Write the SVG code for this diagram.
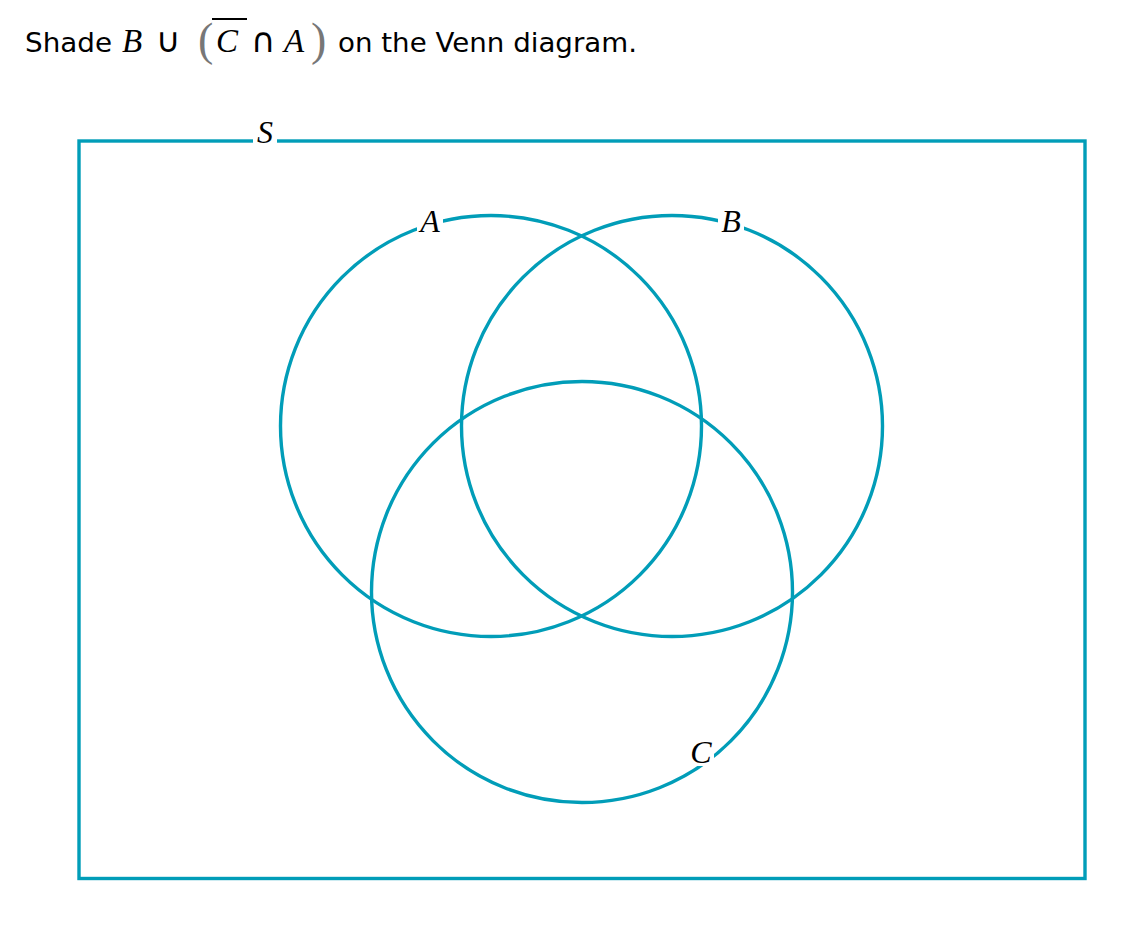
<svg xmlns="http://www.w3.org/2000/svg" width="1128" height="938" viewBox="0 0 1128 938">
<style>
.ln{fill:none;stroke:#019db8;stroke-width:3.4}
.lbl{font-family:"Liberation Serif",serif;font-style:italic;font-size:32px;fill:#000;text-anchor:middle}
.bg{fill:#fff}
.t{font-family:"DejaVu Sans",Verdana,sans-serif;font-size:27px;fill:#000}
.m{font-family:"Liberation Serif",serif;font-style:italic;font-size:33px;fill:#000}
.op{font-family:"DejaVu Sans",sans-serif;font-size:34px;fill:#000}
.par{font-family:"Liberation Serif",serif;font-size:46px;fill:#777}
</style>
<g id="title">
<text class="t" x="25" y="52" textLength="87" lengthAdjust="spacingAndGlyphs">Shade</text>
<text class="m" x="122" y="52">B</text>
<text class="op" x="156" y="52">∪</text>
<text class="par" x="198" y="55">(</text>
<text class="m" x="216" y="52">C</text>
<line x1="212" y1="19" x2="247" y2="19" stroke="#000" stroke-width="1.8"/>
<text class="op" x="251" y="52">∩</text>
<text class="m" x="284" y="52">A</text>
<text class="par" x="311" y="55">)</text>
<text class="t" x="338" y="52" textLength="299" lengthAdjust="spacingAndGlyphs">on the Venn diagram.</text>
</g>
<g id="S">
<rect class="ln" x="79" y="141" width="1006" height="737.5"/>
<rect class="bg" x="253" y="125" width="24" height="24"/>
<text class="lbl" x="265" y="143">S</text>
</g>
<g id="A">
<circle class="ln" cx="491" cy="426" r="210.5"/>
<rect class="bg" x="417" y="208" width="26" height="26"/>
<text class="lbl" x="430" y="232">A</text>
</g>
<g id="B">
<circle class="ln" cx="672" cy="426" r="210.5"/>
<rect class="bg" x="718" y="208" width="26" height="26"/>
<text class="lbl" x="731" y="232">B</text>
</g>
<g id="C">
<circle class="ln" cx="582" cy="592" r="210.5"/>
<rect class="bg" x="688" y="738" width="26" height="28"/>
<text class="lbl" x="701" y="763">C</text>
</g>
<g id="connectors"></g>
</svg>
